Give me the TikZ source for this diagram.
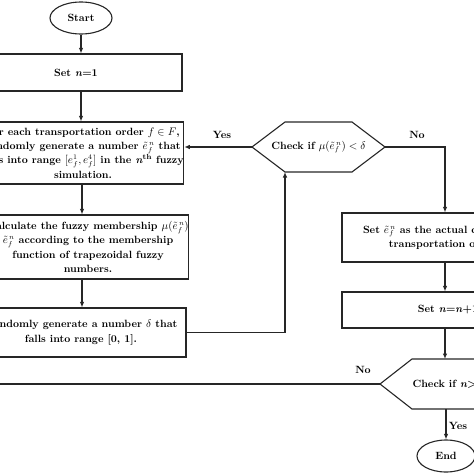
\documentclass[tikz,border=0pt]{standalone}
\usetikzlibrary{arrows.meta,shapes.geometric}
\begin{document}
\begin{tikzpicture}[x=1pt,y=-1pt,
  font=\fontsize{10.5}{14.3}\selectfont\bfseries,
  line width=1.1pt,
  ln/.style={draw=black!85},
  arr/.style={draw=black!85,-{Latex[length=5.5pt,width=4.5pt]}},
  procbox/.style={draw=black!85,rectangle,align=center,inner sep=0pt},
  term/.style={draw=black!85,ellipse,inner sep=0pt,minimum width=62pt,minimum height=32pt},
  lbl/.style={inner sep=0pt}]
\useasboundingbox (0,0) rectangle (474,474);
\clip (0,0) rectangle (474,474);

% left column
\node[term] (start) at (81,18) {Start};
\node[procbox,minimum width=212pt,minimum height=37pt] (set1) at (76,72.5) {Set \textit{n}=1};
\node[procbox,minimum width=198pt,minimum height=62pt] (box2) at (83,153)
  {For each transportation order $f\in F$,\\
   randomly generate a number $\tilde e_f^{\,n}$ that\\
   falls into range $[e_f^1,e_f^4]$ in the \textit{n}\textsuperscript{th} fuzzy\\
   simulation.};
\node[procbox,minimum width=196pt,minimum height=64pt] (box3) at (88,247)
  {Calculate the fuzzy membership $\mu(\tilde e_f^{\,n})$\\
   $\tilde e_f^{\,n}$ according to the membership\\
   function of trapezoidal fuzzy\\
   numbers.};
\node[procbox,minimum width=210pt,minimum height=49pt] (boxd) at (81,332.5)
  {Randomly generate a number $\delta$ that\\
   falls into range [0, 1].};

% decision 1
\node[lbl] (h1) at (318.5,147) {Check if $\mu(\tilde e_f^{\,n})<\delta$};
\coordinate (h1w) at (252,147);
\coordinate (h1e) at (385,147);
\coordinate (h1bl) at (285,172);
\draw[ln] (h1w) -- (285,122) -- (352,122) -- (h1e) -- (352,172) -- (h1bl) -- cycle;

% right column
\node[procbox,minimum width=206pt,minimum height=49pt] (box4) at (445,237.5)
  {Set $\tilde e_f^{\,n}$ as the actual cost of the\\
   transportation order.};
\node[procbox,minimum width=206pt,minimum height=36pt] (box5) at (445,310) {\hspace*{6pt}Set \textit{n}=\textit{n}+1};

% decision 2
\node[lbl,anchor=west] (h2) at (412,384) {Check if \textit{n}>5};
\coordinate (h2w) at (380,384);
\coordinate (h2n) at (445,359);
\coordinate (h2s) at (445,409);
\coordinate (h2out) at (-5,384);
\draw[ln] (h2w) -- (412,359) -- (478,359) -- (510,384) -- (478,409) -- (412,409) -- cycle;

\node[term,minimum width=58pt] (end) at (446,456) {End};

% connectors
\draw[arr] (start.south) -- (start.south |- set1.north);
\draw[arr] (start.south |- set1.south) -- (start.south |- box2.north);
\draw[arr] ([xshift=1pt]start.south |- box2.south) -- ([xshift=1pt]start.south |- box3.north);
\draw[arr] ([xshift=1pt]start.south |- box3.south) -- ([xshift=1pt]start.south |- boxd.north);
\draw[arr] (boxd.east) -- (h1bl |- boxd.east) -- (h1bl);
\draw[arr] (h1w) -- (h1w -| box2.east);
\draw[arr] (h1e) -- (box4.north |- h1e) -- (box4.north);
\draw[arr] (box4.south) -- (box5.north);
\draw[arr] (box5.south) -- (h2n);
\draw[ln] (h2w) -- (h2out);
\draw[arr] (end.north |- h2s) -- (end.north);

% labels
\node[lbl] (yes1) at (222,135) {Yes};
\node[lbl] (no1) at (417,135) {No};
\node[lbl] (no2) at (363,370) {No};
\node[lbl] (yes2) at (458,426) {Yes};
\end{tikzpicture}
\end{document}
